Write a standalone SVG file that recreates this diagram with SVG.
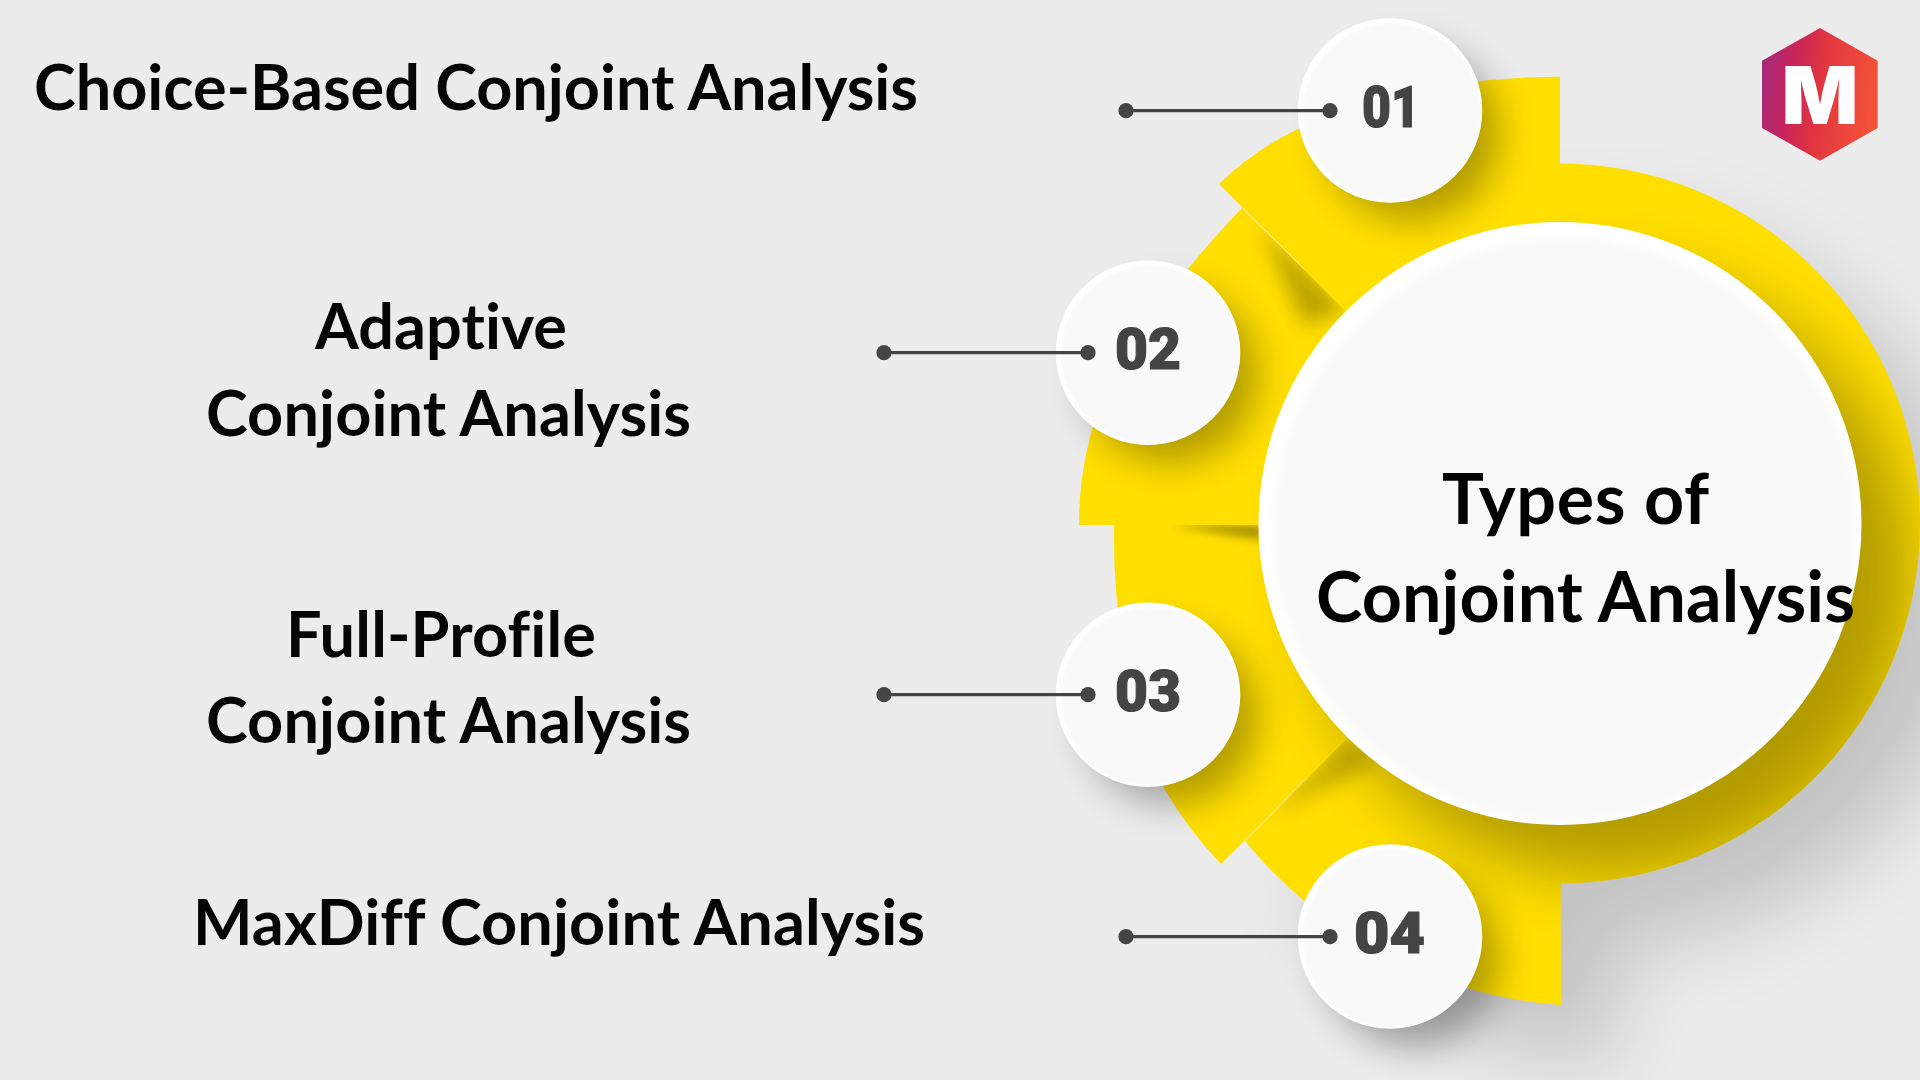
<svg xmlns="http://www.w3.org/2000/svg" width="1920" height="1080" viewBox="0 0 1920 1080">
<style>
.lb{font-family:"Lato","Noto Sans",sans-serif;font-weight:700;font-size:63px;fill:#050505;font-variant-ligatures:none}
.ct{font-family:"Lato","Noto Sans",sans-serif;font-weight:700;font-size:70px;fill:#000;font-variant-ligatures:none}
.num{font-family:"Roboto","Liberation Sans",sans-serif;font-weight:900;font-size:57px;fill:#444;stroke:#444;stroke-width:1.2;text-anchor:middle}
.y{fill:#ffdf00}
.dot{fill:#444}
.ln{stroke:#444;stroke-width:3.2;fill:none}
.small{fill:url(#rs)}
</style>
<defs>
<filter id="b6" x="-80%" y="-80%" width="260%" height="260%"><feGaussianBlur stdDeviation="10"/></filter>
<filter id="b4" x="-80%" y="-200%" width="260%" height="500%"><feGaussianBlur stdDeviation="5"/></filter>
<filter id="b18" x="-60%" y="-60%" width="220%" height="220%"><feGaussianBlur stdDeviation="18"/></filter>
<filter id="b32" x="-40%" y="-40%" width="180%" height="180%"><feGaussianBlur stdDeviation="32"/></filter>
<filter id="b45" x="-40%" y="-40%" width="180%" height="180%"><feGaussianBlur stdDeviation="42"/></filter>
<path id="s1" d="M1560 76.7A680 680 0 0 0 1298 129A300 300 0 0 0 1219 184L1560 523.5Z"/>
<path id="s2" d="M1079 525A354 354 0 0 1 1189 268A800 800 0 0 1 1242 208L1560 525Z"/>
<path id="s3" d="M1114 525A650 650 0 0 0 1165 790A400 400 0 0 0 1221 864L1560 525Z"/>
<path id="s4" d="M1561 1005A450 450 0 0 1 1245 841L1560 525Z"/>
<clipPath id="cs2"><use href="#s2"/></clipPath>
<clipPath id="cs3"><use href="#s3"/></clipPath>
<clipPath id="cs4"><use href="#s4"/></clipPath>
<clipPath id="cu"><use href="#s1"/><use href="#s2"/><use href="#s3"/><use href="#s4"/><circle cx="1560" cy="523.5" r="360"/></clipPath>
<linearGradient id="lg" x1="0" y1="0" x2="1" y2="0.15">
<stop offset="0" stop-color="#a22b80"/><stop offset=".3" stop-color="#c7245c"/><stop offset=".55" stop-color="#e0353f"/><stop offset="1" stop-color="#f4503a"/>
</linearGradient>
<radialGradient id="rd" cx=".508" cy=".51" r=".5">
<stop offset=".945" stop-color="#f9f9f9"/><stop offset=".985" stop-color="#fff"/>
</radialGradient>
<radialGradient id="rs" cx=".51" cy=".51" r=".5">
<stop offset=".94" stop-color="#f9f9f9"/><stop offset=".985" stop-color="#fff"/>
</radialGradient>
</defs>
<rect width="1920" height="1080" fill="#ececec"/>
<g id="backdrop">
<g transform="translate(55 60)" opacity=".17" filter="url(#b45)"><circle cx="1560" cy="523.5" r="360"/><use href="#s4"/></g>
<circle cx="1560" cy="523.5" r="360" class="y"/>
<use href="#s4" class="y"/>
<g clip-path="url(#cs4)"><path d="M1346 739L1270 816L1380 760Z" opacity=".22" filter="url(#b6)"/></g>
<use href="#s3" class="y"/>
<g clip-path="url(#cs3)"><path d="M1170 525L1262 525L1262 540Z" opacity=".35" filter="url(#b4)"/></g>
<use href="#s2" class="y"/>
<g clip-path="url(#cs2)"><path d="M1260 226L1345 310L1305 325Z" opacity=".28" filter="url(#b6)"/></g>
<use href="#s1" class="y"/>
<g clip-path="url(#cu)"><circle cx="1610" cy="575" r="301" opacity=".3" filter="url(#b32)"/></g>
</g>
<g id="shadows" opacity=".3">
<circle cx="1412" cy="133" r="88" filter="url(#b18)"/>
<circle cx="1170" cy="375" r="88" filter="url(#b18)"/>
<circle cx="1170" cy="717" r="88" filter="url(#b18)"/>
<circle cx="1412" cy="959" r="88" filter="url(#b18)"/>
</g>
<g id="node-center">
<circle cx="1560" cy="523.5" r="301.5" fill="url(#rd)"/>
<text class="ct" x="1442" y="524" textLength="267">Types of</text>
<text class="ct" x="1316" y="622" textLength="539">Conjoint Analysis</text>
</g>
<g id="node-01">
<circle cx="1390" cy="110.5" r="92.3" class="small"/>
<text class="num" x="1391" y="127" textLength="58" lengthAdjust="spacingAndGlyphs">01</text>
<text class="lb" x="34" y="110" textLength="884">Choice-Based Conjoint Analysis</text>
</g>
<g id="node-02">
<circle cx="1148" cy="352.7" r="92.3" class="small"/>
<text class="num" x="1148" y="369" textLength="66" lengthAdjust="spacingAndGlyphs">02</text>
<text class="lb" x="315" y="349" textLength="252">Adaptive</text>
<text class="lb" x="206" y="436" textLength="485">Conjoint Analysis</text>
</g>
<g id="node-03">
<circle cx="1148" cy="694.7" r="92.3" class="small"/>
<text class="num" x="1148" y="711" textLength="66" lengthAdjust="spacingAndGlyphs">03</text>
<text class="lb" x="286" y="657" textLength="310">Full-Profile</text>
<text class="lb" x="206" y="743" textLength="485">Conjoint Analysis</text>
</g>
<g id="node-04">
<circle cx="1390" cy="936.5" r="92.3" class="small"/>
<text class="num" x="1389.5" y="953" textLength="71" lengthAdjust="spacingAndGlyphs">04</text>
<text class="lb" x="193" y="945" textLength="732">MaxDiff Conjoint Analysis</text>
</g>
<g id="connectors">
<path class="ln" d="M1126 110.7H1330"/><circle class="dot" cx="1126" cy="110.7" r="7.6"/><circle class="dot" cx="1330" cy="110.7" r="7.6"/>
<path class="ln" d="M884 352.7H1088"/><circle class="dot" cx="884" cy="352.7" r="7.6"/><circle class="dot" cx="1088" cy="352.7" r="7.6"/>
<path class="ln" d="M884 694.7H1088"/><circle class="dot" cx="884" cy="694.7" r="7.6"/><circle class="dot" cx="1088" cy="694.7" r="7.6"/>
<path class="ln" d="M1126 936.7H1330"/><circle class="dot" cx="1126" cy="936.7" r="7.6"/><circle class="dot" cx="1330" cy="936.7" r="7.6"/>
</g>
<g id="logo">
<path d="M1820 28L1877.7 60.7V128L1820 160.7L1762 128V60.7Z" fill="url(#lg)"/>
<text x="1820" y="124" text-anchor="middle" font-family="Inter,'Liberation Sans',sans-serif" font-weight="900" font-size="80" fill="#fff">M</text>
</g>
</svg>
